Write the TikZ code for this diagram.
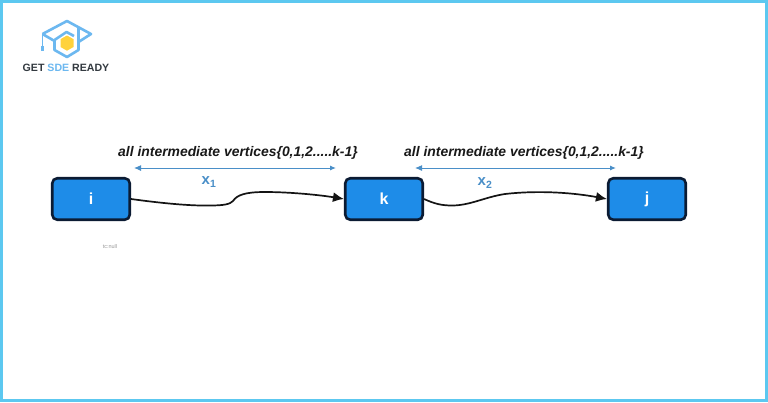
\documentclass[tikz,border=0pt]{standalone}
\usepackage{fontspec}
\setmainfont{Liberation Sans}
\usetikzlibrary{arrows.meta}
\definecolor{frameblue}{HTML}{5CC8F0}
\definecolor{boxblue}{HTML}{1E8CE8}
\definecolor{boxline}{HTML}{0B1B33}
\definecolor{dimblue}{HTML}{4A8FC8}
\definecolor{logoblue}{HTML}{6CB8F0}
\definecolor{logogold}{HTML}{FFD23C}
\definecolor{logodark}{HTML}{333A40}
\tikzset{
  vertexbox/.style={draw=boxline,line width=2.6pt,fill=boxblue,rounded corners=5pt,minimum width=77.5pt,minimum height=41.5pt,inner sep=0pt,text=white,font=\bfseries\fontsize{16}{18}\selectfont},
  rangelabel/.style={font=\bfseries\itshape\fontsize{13.9}{16}\selectfont,text=black!90,inner sep=0pt},
  dimarrow/.style={draw=dimblue,line width=1pt,{Latex[length=7pt,width=6pt]}-{Latex[length=6pt,width=5pt]}},
  flowarrow/.style={draw=black!92,line width=1.7pt,-{Latex[length=11pt,width=10pt]}},
  sublabel/.style={text=dimblue,font=\bfseries\fontsize{15}{17}\selectfont,inner sep=0pt},
  logoline/.style={draw=logoblue,line width=2.6pt,line join=round}
}
\begin{document}
\begin{tikzpicture}[x=1pt,y=-1pt]
\useasboundingbox (0,0) rectangle (768,402);
\fill[white] (0,0) rectangle (768,402);
\draw[frameblue,line width=3pt] (1.5,1.5) rectangle (766.5,400.5);
% logo
\draw[logoline] (42.5,34) -- (67,21) -- (91,34) -- (78.5,42);
\draw[logoline] (42.5,34) -- (54.5,41);
\draw[logoline] (54.5,40) -- (54.5,50) -- (67,57) -- (78.5,50) -- (78.5,28);
\draw[logoline] (54.5,40) -- (66.5,32) -- (74,36);
\draw[draw=logoblue,line width=1.3pt] (42.5,34) -- (42.5,46);
\fill[logoblue] (41,46) rectangle (44,51);
\fill[logogold] (67,35.5) -- (73.5,39.2) -- (73.5,47) -- (67,50.7) -- (60.5,47) -- (60.5,39.2) -- cycle;
\node[inner sep=0pt,font=\bfseries\fontsize{10.6}{12}\selectfont,text=logodark] (brand) at (66,68) {GET \textcolor{logoblue}{SDE} READY};
% vertices
\node[vertexbox] (i) at (91,199) {i};
\node[vertexbox] (k) at (384,199) {k};
\node[vertexbox] (j) at (647,199) {j};
% range labels
\node[rangelabel] (r1) at (238,153) {all intermediate vertices\{0,1,2.....k-1\}};
\node[rangelabel] (r2) at (524,153) {all intermediate vertices\{0,1,2.....k-1\}};
% range arrows
\coordinate (a1) at (134,168); \coordinate (b1) at (336,168);
\coordinate (a2) at (415,168); \coordinate (b2) at (616,168);
\draw[dimarrow] (a1) -- (b1);
\draw[dimarrow] (a2) -- (b2);
\node[sublabel] (x1) at (209,182) {x\textsubscript{1}};
\node[sublabel] (x2) at (485,183) {x\textsubscript{2}};
% flows
\draw[flowarrow] (i.east) .. controls (160,203) and (190,206) .. (210,205.5)
  .. controls (225,205.5) and (230,204) .. (233,201)
  .. controls (237,195) and (245,192) .. (265,192)
  .. controls (290,192) and (320,195) .. (k.west);
\draw[flowarrow] (k.east) .. controls (435,204) and (442,205.5) .. (452,205.5)
  .. controls (470,205.5) and (485,197) .. (505,194)
  .. controls (540,190) and (575,193) .. (j.west);
% tiny smudge text
\node[inner sep=0pt,text=black!40,font=\fontsize{5.5}{6}\selectfont] (t) at (110,247) {tc:null};
\end{tikzpicture}
\end{document}
